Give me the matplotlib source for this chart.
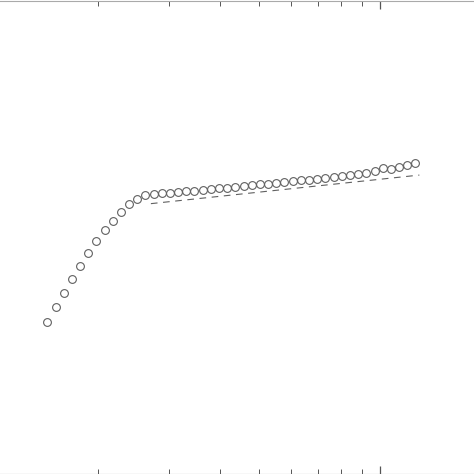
import matplotlib
matplotlib.use("Agg")
import matplotlib.pyplot as plt

# measured points (log-log axes, no labels shown in the figure)
x_data = [0.1494, 0.1566, 0.1641, 0.1719, 0.1801, 0.1887, 0.1978, 0.2072,
          0.2171, 0.2275, 0.2384, 0.2498, 0.2618, 0.2743, 0.2874, 0.3011,
          0.3155, 0.3306, 0.3464, 0.3630, 0.3803, 0.3985, 0.4176, 0.4375,
          0.4585, 0.4804, 0.5034, 0.5274, 0.5527, 0.5791, 0.6068, 0.6364,
          0.6668, 0.6987, 0.7321, 0.7672, 0.8038, 0.8424, 0.8826, 0.9249,
          0.9692, 1.0155, 1.0641, 1.1150, 1.1684, 1.2243]
y_data = [0.2378, 0.2597, 0.2812, 0.3052, 0.3292, 0.3539, 0.3786, 0.4032,
          0.4256, 0.4476, 0.4677, 0.4820, 0.4923, 0.4966, 0.4986, 0.5000,
          0.5014, 0.5035, 0.5055, 0.5078, 0.5101, 0.5125, 0.5149, 0.5172,
          0.5196, 0.5220, 0.5244, 0.5268, 0.5292, 0.5316, 0.5340, 0.5365,
          0.5389, 0.5414, 0.5439, 0.5470, 0.5501, 0.5533, 0.5565, 0.5603,
          0.5649, 0.5746, 0.5736, 0.5794, 0.5851, 0.5935]

# dashed power-law guide
fit_x = [0.270, 1.252]
fit_y = [0.4695, 0.553]

fig = plt.figure(figsize=(4.74, 4.74), dpi=100)
ax = fig.add_axes([0, 0.001, 1, 0.997])

ax.plot(x_data, y_data, 'o', ms=5.6, mfc='none', mec='#606060', mew=0.8)
line, = ax.plot(fit_x, fit_y, '--', color='#606060', lw=0.8)
line.set_dashes((6, 5))

ax.set_xscale('log')
ax.set_yscale('log')
ax.set_xlim(0.114, 1.711)
ax.set_ylim(0.1, 1.5)

ax.spines['left'].set_visible(False)
ax.spines['right'].set_visible(False)
ax.spines['top'].set_color('#aaaaaa')
ax.spines['bottom'].set_color('#777777')

ax.tick_params(axis='x', which='both', direction='in', top=True, bottom=True,
               labelbottom=False, labeltop=False, color='#555555')
ax.tick_params(axis='x', which='major', length=6, width=0.9)
ax.tick_params(axis='x', which='minor', length=3.5, width=0.7)
ax.tick_params(axis='y', which='both', left=False, right=False,
               labelleft=False, labelright=False)

fig.savefig('out.png', dpi=100)
